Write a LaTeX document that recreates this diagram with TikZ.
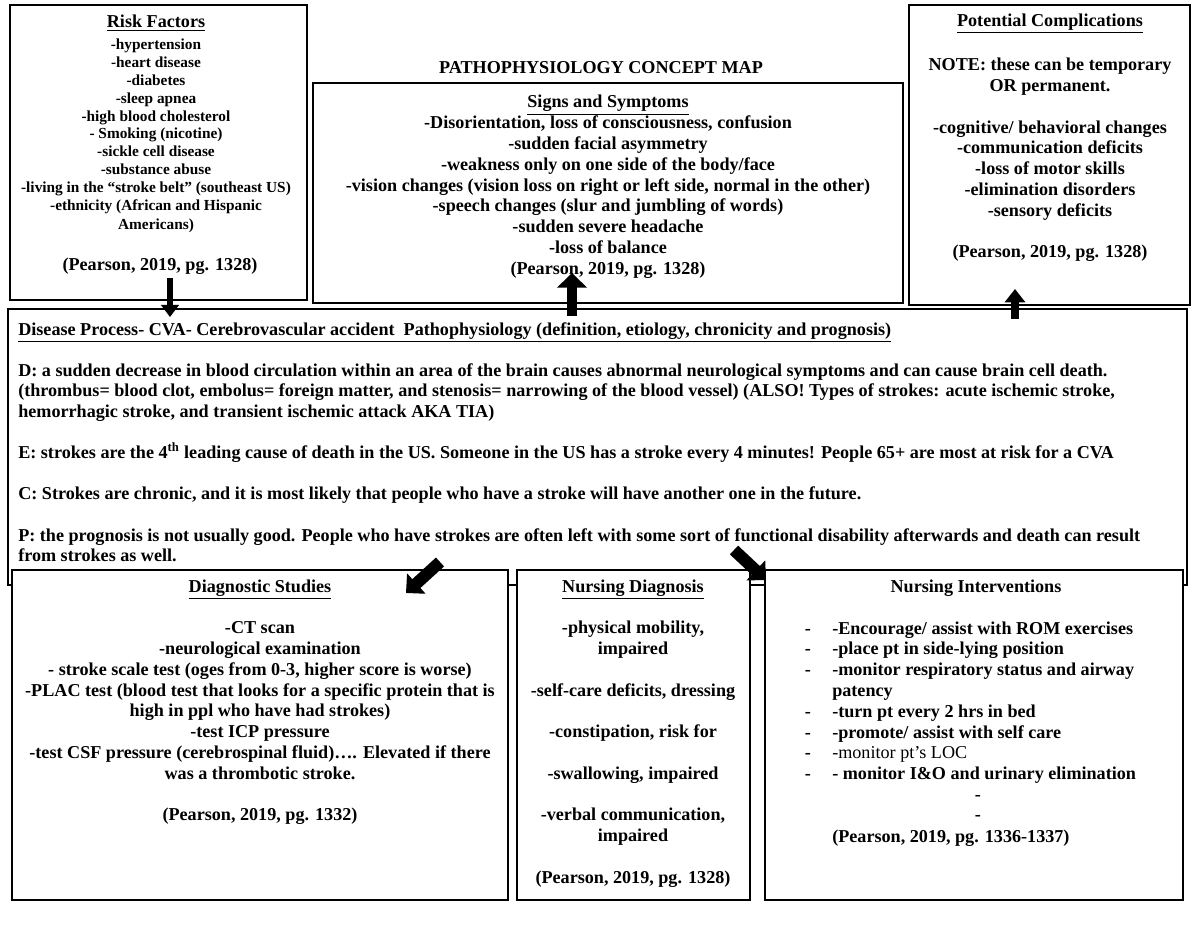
\documentclass[tikz,border=0pt]{standalone}
\usepackage{fontspec}
\setmainfont{Liberation Serif}
\usetikzlibrary{arrows.meta,fit}
\begin{document}
\begin{tikzpicture}[x=0.75pt,y=-0.75pt,
  box/.style={draw=black, line width=1.5pt, fill=white, inner sep=0pt},
  txt/.style={inner sep=0pt, font=\fontsize{13.6}{15.6}\selectfont\bfseries, align=center, anchor=base},
  txtl/.style={txt, align=left, anchor=base west},
  smalltxt/.style={txt, font=\fontsize{11.5}{13.35}\selectfont\bfseries},
  distxt/.style={txtl, font=\fontsize{13.6}{15.45}\selectfont\bfseries},
  arrowsmall/.style={line width=4.5pt, -{Triangle[width=13pt,length=9pt]}},
  arrowmid/.style={line width=6pt, -{Triangle[width=15pt,length=10pt]}},
  arrowbig/.style={line width=7.5pt, -{Triangle[width=22pt,length=11pt]}},
  arrowdiag/.style={line width=9pt, -{Triangle[width=20pt,length=10.5pt]}}]
\useasboundingbox (0,0) rectangle (1200,927);
\fill[white] (0,0) rectangle (1200,927);

% boxes
\node[box, fit={(10,5) (307,300)}] (risk) {};
\node[box, fit={(313,83) (903,303)}] (signs) {};
\node[box, fit={(909,5) (1190,305)}] (comp) {};
\node[box, fit={(8,309) (1187,585)}] (disease) {};
\node[box, fit={(12,570) (508,900)}] (diag) {};
\node[box, fit={(517,570) (750,900)}] (ndx) {};
\node[box, fit={(765,570) (1183,900)}] (nint) {};

% title
\node[txt] (title) at (601,74) {PATHOPHYSIOLOGY CONCEPT MAP};

% risk factors (multi-line nodes are placed by the baseline of their last line)
\node[txt] (riskh) at (156,28) {\underline{Risk Factors}};
\node[smalltxt] (riskl) at (156,230) {-hypertension\\-heart disease\\-diabetes\\-sleep apnea\\-high blood cholesterol\\- Smoking (nicotine)\\-sickle cell disease\\-substance abuse\\-living in the “stroke belt” (southeast US)\\-ethnicity (African and Hispanic\\[1.5pt]Americans)};
\node[txt] (riskp) at (160,271) {(Pearson, 2019, pg. 1328)};

% signs and symptoms
\node[txt] (signst) at (608,274.4) {\underline{Signs and Symptoms}\\-Disorientation, loss of consciousness, confusion\\-sudden facial asymmetry\\-weakness only on one side of the body/face\\-vision changes (vision loss on right or left side, normal in the other)\\-speech changes (slur and jumbling of words)\\-sudden severe headache\\-loss of balance\\(Pearson, 2019, pg. 1328)};

% complications
\node[txt] (comph) at (1050,27) {\underline{Potential Complications}};
\node[txt] (compt) at (1050,258) {NOTE: these can be temporary\\OR permanent.\\\mbox{}\\-cognitive/ behavioral changes\\-communication deficits\\-loss of motor skills\\-elimination disorders\\-sensory deficits\\\mbox{}\\(Pearson, 2019, pg. 1328)};

% disease process
\node[distxt] (dist) at (18,561.6) {\underline{Disease Process- CVA- Cerebrovascular accident\ \ Pathophysiology (definition, etiology, chronicity and prognosis)}\\\mbox{}\\
D: a sudden decrease in blood circulation within an area of the brain causes abnormal neurological symptoms and can cause brain cell death.\\
(thrombus= blood clot, embolus= foreign matter, and stenosis= narrowing of the blood vessel) (ALSO! Types of strokes: acute ischemic stroke,\\
hemorrhagic stroke, and transient ischemic attack AKA TIA)\\\mbox{}\\
E: strokes are the 4\textsuperscript{th} leading cause of death in the US. Someone in the US has a stroke every 4 minutes! People 65+ are most at risk for a CVA\\\mbox{}\\
C: Strokes are chronic, and it is most likely that people who have a stroke will have another one in the future.\\\mbox{}\\
P: the prognosis is not usually good. People who have strokes are often left with some sort of functional disability afterwards and death can result\\
from strokes as well.};

% diagnostic studies
\node[txt] (diagt) at (260,820.8) {\underline{Diagnostic Studies}\\\mbox{}\\-CT scan\\-neurological examination\\- stroke scale test (oges from 0-3, higher score is worse)\\-PLAC test (blood test that looks for a specific protein that is\\high in ppl who have had strokes)\\-test ICP pressure\\-test CSF pressure (cerebrospinal fluid)…. Elevated if there\\was a thrombotic stroke.\\\mbox{}\\(Pearson, 2019, pg. 1332)};

% nursing diagnosis
\node[txt] (ndxt) at (633,883.2) {\underline{Nursing Diagnosis}\\\mbox{}\\-physical mobility,\\impaired\\\mbox{}\\-self-care deficits, dressing\\\mbox{}\\-constipation, risk for\\\mbox{}\\-swallowing, impaired\\\mbox{}\\-verbal communication,\\impaired\\\mbox{}\\(Pearson, 2019, pg. 1328)};

% nursing interventions
\node[txt] (ninth) at (976,592) {Nursing Interventions};
\node[txt] (nintd) at (808,779.6) {-\\-\\-\\\mbox{}\\-\\-\\-\\-};
\node[txtl] (nintl) at (832,779.6) {-Encourage/ assist with ROM exercises\\-place pt in side-lying position\\-monitor respiratory status and airway\\patency\\-turn pt every 2 hrs in bed\\-promote/ assist with self care\\{\mdseries -monitor pt’s LOC}\\- monitor I\&O and urinary elimination};
\node[txt] (nintx) at (978,820.8) {-\\-};
\node[txtl] (nintp) at (832,842) {(Pearson, 2019, pg. 1336-1337)};

% arrows
\coordinate (a1s) at (170,278); \coordinate (a1e) at (170,317);
\coordinate (a2s) at (572,316); \coordinate (a2e) at (572,273);
\coordinate (a3s) at (1015,319); \coordinate (a3e) at (1015,289);
\coordinate (a4s) at (440,562); \coordinate (a4e) at (406,593);
\coordinate (a5s) at (734,550); \coordinate (a5e) at (766,580);
\draw[arrowsmall] (a1s) -- (a1e);
\draw[arrowbig] (a2s) -- (a2e);
\draw[arrowmid] (a3s) -- (a3e);
\draw[arrowdiag] (a4s) -- (a4e);
\draw[arrowdiag] (a5s) -- (a5e);
\end{tikzpicture}
\end{document}
